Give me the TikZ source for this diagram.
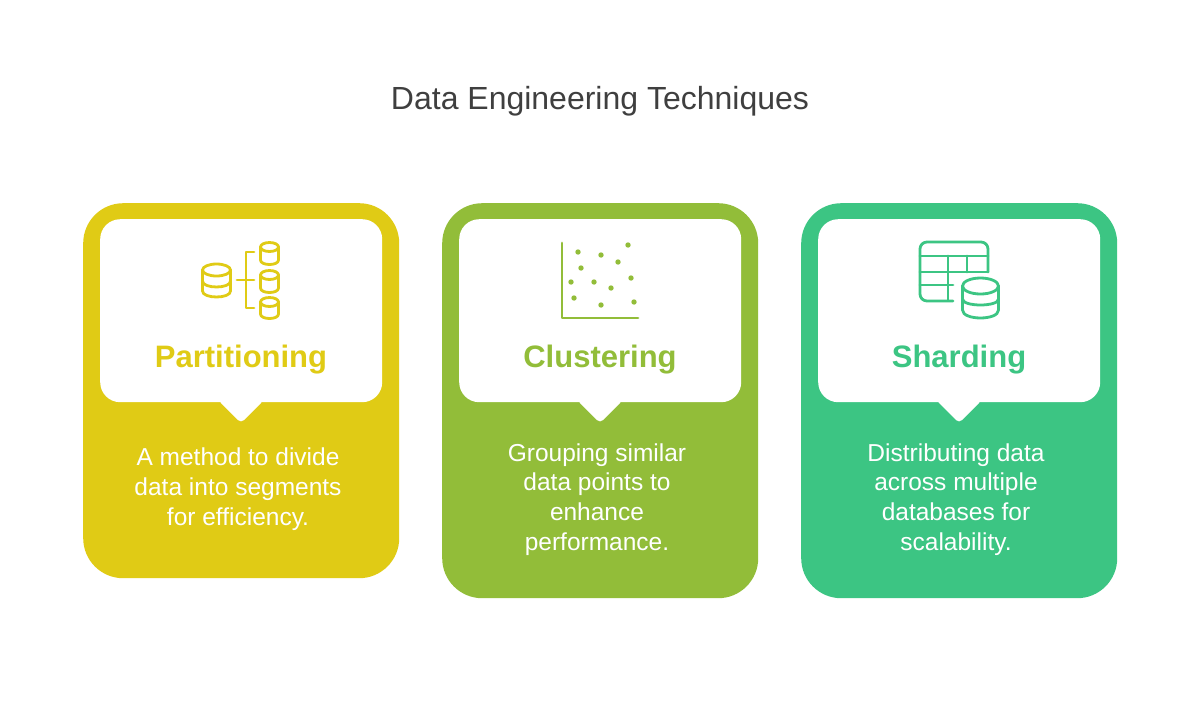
\documentclass[tikz,border=0pt]{standalone}
\usepackage{fontspec}
\setmainfont{Liberation Sans}
\usetikzlibrary{positioning}
\definecolor{partcol}{HTML}{E0CB15}
\definecolor{clustcol}{HTML}{92BD39}
\definecolor{shardcol}{HTML}{3CC583}
\definecolor{titlecol}{HTML}{3F3F3F}
\tikzset{
  card/.style={anchor=north west,inner sep=0pt,minimum width=316pt,rounded corners=40pt},
  bubble/.style={anchor=north west,fill=white,inner sep=0pt,minimum width=282pt,minimum height=183pt,rounded corners=20pt},
  heading/.style={font=\fontsize{31}{31}\selectfont\bfseries},
  body/.style={text=white,align=center,font=\fontsize{24.5}{29.7}\selectfont},
  icon/.style={line width=2.8pt,line cap=round,line join=round},
  tail/.style={fill=white,rounded corners=4pt}
}
% #1 x, #2 top of the can, #3 rx, #4 ry, #5 height, #6 colour
\newcommand{\dbcan}[6]{
  \draw[icon,#6] (#1,#2) ellipse [x radius=#3pt,y radius=#4pt];
  \draw[icon,#6] ({#1-#3},#2) -- ({#1-#3},{#2+#5})
     .. controls ({#1-#3},{#2+#5+1.33*#4}) and ({#1+#3},{#2+#5+1.33*#4}) .. ({#1+#3},{#2+#5})
     -- ({#1+#3},#2);
}
\newcommand{\dbmid}[5]{
  \draw[icon,#5] ({#1-#3},#2)
     .. controls ({#1-#3},{#2+1.33*#4}) and ({#1+#3},{#2+1.33*#4}) .. ({#1+#3},#2);
}
\begin{document}
\begin{tikzpicture}[x=1pt,y=-1pt]
  \useasboundingbox (0,0) rectangle (1200,721);
  \node[font=\fontsize{32}{32}\selectfont,text=titlecol] (title) at (600,101) {Data Engineering Techniques};

  \node[card,fill=partcol,minimum height=375pt]  (part)  at (83,203)  {};
  \node[card,fill=clustcol,minimum height=395pt] (clust) at (442,203) {};
  \node[card,fill=shardcol,minimum height=395pt] (shard) at (801,203) {};

  \node[bubble] (partb)  at (100,219) {};
  \node[bubble] (clustb) at (459,219) {};
  \node[bubble] (shardb) at (818,219) {};
  \fill[tail] (218,400) -- (241,423) -- (264,400) -- cycle;
  \fill[tail] (577,400) -- (600,423) -- (623,400) -- cycle;
  \fill[tail] (936,400) -- (959,423) -- (982,400) -- cycle;

  \node[heading,text=partcol]  (parth)  at (241,360) {Partitioning};
  \node[heading,text=clustcol] (clusth) at (600,360) {Clustering};
  \node[heading,text=shardcol] (shardh) at (959,360) {Sharding};

  \node[body] (partt)  at (238,489) {A method to divide\\data into segments\\for efficiency.};
  \node[body] (clustt) at (597,499.5) {Grouping similar\\data points to\\enhance\\performance.};
  \node[body] (shardt) at (956,499.5) {Distributing data\\across multiple\\databases for\\scalability.};

  % partitioning icon
  \dbcan{216.5}{270}{14}{6}{21}{partcol}
  \dbmid{216.5}{281}{14}{6}{partcol}
  \dbcan{269.5}{247}{9}{4.5}{13}{partcol}
  \dbcan{269.5}{275}{9}{4.5}{13}{partcol}
  \dbcan{269.5}{302}{9}{4.5}{12}{partcol}
  \draw[icon,partcol] (254,252) -- (246,252) -- (246,308) -- (254,308);
  \draw[icon,partcol] (237,280) -- (254,280);

  % clustering icon
  \draw[icon,clustcol] (562,243) -- (562,318) -- (638,318);
  \foreach \px/\py in {578/252,601/255,628/245,618/262,581/268,571/282,594/282,631/278,611/288,574/298,601/305,634/302}
    \fill[clustcol] (\px,\py) circle (2.7pt);

  % sharding icon
  \draw[icon,shardcol,rounded corners=7pt] (953,301) -- (920,301) -- (920,242) -- (988,242) -- (988,272);
  \draw[icon,shardcol] (920,256) -- (988,256);
  \draw[icon,shardcol] (920,272) -- (988,272);
  \draw[icon,shardcol] (920,285) -- (953,285);
  \draw[icon,shardcol] (948,256) -- (948,300);
  \draw[icon,shardcol] (967,256) -- (967,272);
  \dbcan{980.5}{286}{18}{8}{24}{shardcol}
  \dbmid{980.5}{299}{18}{6}{shardcol}
\end{tikzpicture}
\end{document}
